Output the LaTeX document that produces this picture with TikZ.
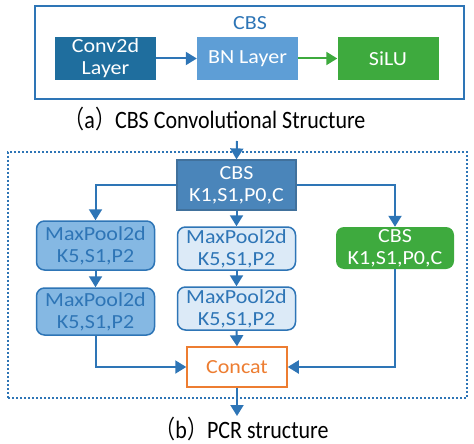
\documentclass[tikz,border=0pt]{standalone}
\usepackage{fontspec}
\usepackage{graphicx}
\setmainfont{Carlito}[FakeStretch=1.1]
\newfontfamily\cjkf{Noto Sans CJK SC}
\usetikzlibrary{arrows.meta}
\definecolor{lblue}{HTML}{2E75B6}
\definecolor{convc}{HTML}{1F6E9E}
\definecolor{bnc}{HTML}{5E9ED6}
\definecolor{grn}{HTML}{3EAA3E}
\definecolor{cbsc}{HTML}{4A85BA}
\definecolor{cbsb}{HTML}{41719C}
\definecolor{mpl}{HTML}{85B8E3}
\definecolor{mpm}{HTML}{DCEAF7}
\definecolor{orng}{HTML}{ED7D31}
\begin{document}
\begin{tikzpicture}[x=1pt,y=-1pt,
  txt/.style={font=\fontsize{20}{22}\selectfont, align=center, inner sep=0pt},
  captext/.style={font=\fontsize{20}{22}\selectfont, inner sep=0pt},
  sq/.style={txt, minimum width=101pt, minimum height=43pt, text=white},
  rbox/.style={txt, rounded corners=8pt, draw=lblue, line width=1.5pt, minimum width=118pt, text=lblue},
  conn/.style={draw=lblue, line width=2pt, -{Triangle[length=11pt,width=13pt]}},
  gconn/.style={draw=grn, line width=2pt, -{Triangle[length=11pt,width=13pt]}}]
\useasboundingbox (0,0) rectangle (474,444);
% (a)
\node[draw=lblue, line width=1.5pt, minimum width=429pt, minimum height=93pt, inner sep=0pt] (outerA) at (249.5,52.5) {};
\node[txt, text=lblue] (cbslab) at (250,23) {CBS};
\node[sq, fill=convc] (conv) at (105.5,58.5) {Conv2d\\Layer};
\node[sq, fill=bnc] (bn) at (247.5,58.5) {BN Layer};
\node[sq, fill=grn] (silu) at (388,58.5) {SiLU};
\draw[conn] (conv) -- (bn);
\draw[gconn] (bn) -- (silu);
\node[captext] (capA) at (215,119) {\scalebox{1}[1.25]{{\cjkf （}a{\cjkf ）}CBS Convolutional Structure}};
% (b)
\node[draw=lblue, line width=1.5pt, dash pattern=on 2pt off 2pt, minimum width=459pt, minimum height=246pt, inner sep=0pt] (outerB) at (237.5,275) {};
\coordinate (inp) at (237,141);
\coordinate (outp) at (237,416);
\node[sq, fill=cbsc, draw=cbsb, line width=1.2pt, minimum width=119pt, minimum height=50pt] (cbs) at (236.5,185) {CBS\\K1,S1,P0,C};
\node[rbox, fill=mpl, minimum height=49pt] (mp1) at (95.5,245.5) {MaxPool2d\\K5,S1,P2};
\node[rbox, fill=mpl, minimum height=47pt] (mp2) at (95.5,311.5) {MaxPool2d\\K5,S1,P2};
\node[rbox, fill=mpm, minimum height=43pt] (mm1) at (236.5,248.5) {MaxPool2d\\K5,S1,P2};
\node[rbox, fill=mpm, minimum height=43pt] (mm2) at (236.5,308.5) {MaxPool2d\\K5,S1,P2};
\node[txt, rounded corners=8pt, fill=grn, text=white, minimum width=118pt, minimum height=42pt] (gcbs) at (395,248) {CBS\\K1,S1,P0,C};
\node[txt, draw=orng, line width=1.5pt, fill=white, text=orng, minimum width=100pt, minimum height=40pt] (concat) at (237,367) {Concat};
\draw[conn] (inp) -- (cbs.north);
\draw[conn] (cbs.west) -| (mp1.north);
\draw[conn] (cbs.east) -| (gcbs.north);
\draw[conn] (cbs.south) -- (mm1.north);
\draw[conn] (mp1.south) -- (mp2.north);
\draw[conn] (mm1.south) -- (mm2.north);
\draw[conn] (mm2.south) -- (concat.north);
\draw[conn] (mp2.south) |- (concat.west);
\draw[conn] (gcbs.south) |- (concat.east);
\draw[conn] (concat.south) -- (outp);
\node[captext] (capB) at (242,429) {\scalebox{1}[1.25]{{\cjkf （}b{\cjkf ）}PCR structure}};
\end{tikzpicture}
\end{document}
